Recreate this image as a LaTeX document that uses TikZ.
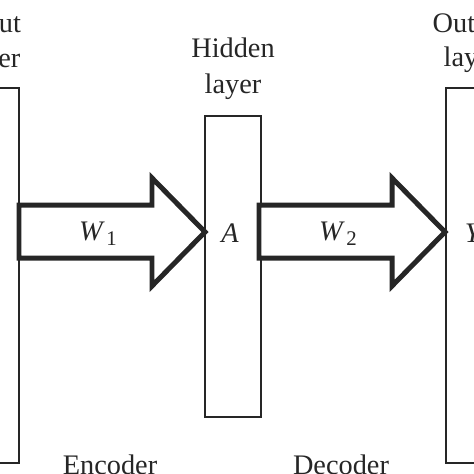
\documentclass[tikz,border=0pt]{standalone}
\usepackage{fontspec}
\setmainfont{Liberation Serif}
\newcommand{\wsub}[1]{\raisebox{-0.2em}{\fontsize{15}{15}\selectfont #1}}
\begin{document}
\begin{tikzpicture}[x=0.2532mm, y=-0.2532mm,
    layerbox/.style={draw=black!85, line width=1.4pt},
    bigarrow/.style={draw=black!85, fill=white, line width=3.6pt, miter limit=10},
    lbl/.style={anchor=base, inner sep=0pt, text=black!85, font=\fontsize{20.4}{26}\selectfont}]
    \useasboundingbox (0,0) rectangle (474,474);

    % Layer Coordinates
    \coordinate (in1) at (-37,88);
    \coordinate (in2) at (19,463);
    \coordinate (hid1) at (205,116);
    \coordinate (hid2) at (261,417);
    \coordinate (out1) at (446,88);
    \coordinate (out2) at (502,463);

    % Layers
    \draw[layerbox] (in1) rectangle (in2);
    \draw[layerbox] (hid1) rectangle (hid2);
    \draw[layerbox] (out1) rectangle (out2);

    % Arrows
    \foreach \s/\w/\n in {19/1/enc, 259/2/dec} {
        \draw[bigarrow] (\s,205) -- (\s+133,205) -- (\s+133,178) -- (\s+186,232)
            -- (\s+133,286) -- (\s+133,258) -- (\s,258) -- cycle;
        \node[lbl] (w\n) at (\s+79,240) {\textit{W}\kern0.05em\wsub{\w}};
    }

    % Text
    \node[lbl] (x) at (-9,241) {\textit{X}};
    \node[lbl] (a) at (230,242) {\textit{A}};
    \node[lbl] (y) at (474,242) {\textit{Y}};

    \node[lbl] (intop) at (-9,32) {Input};
    \node[lbl] (inbot) at (-8,67) {layer};
    \node[lbl] (hidtop) at (233,57) {Hidden};
    \node[lbl] (hidbot) at (233,93) {layer};
    \node[lbl] (outtop) at (472,32) {Output};
    \node[lbl] (outbot) at (472,66) {layer};

    \node[lbl] (enc) at (110,474) {Encoder};
    \node[lbl] (dec) at (341,474) {Decoder};
\end{tikzpicture}
\end{document}
